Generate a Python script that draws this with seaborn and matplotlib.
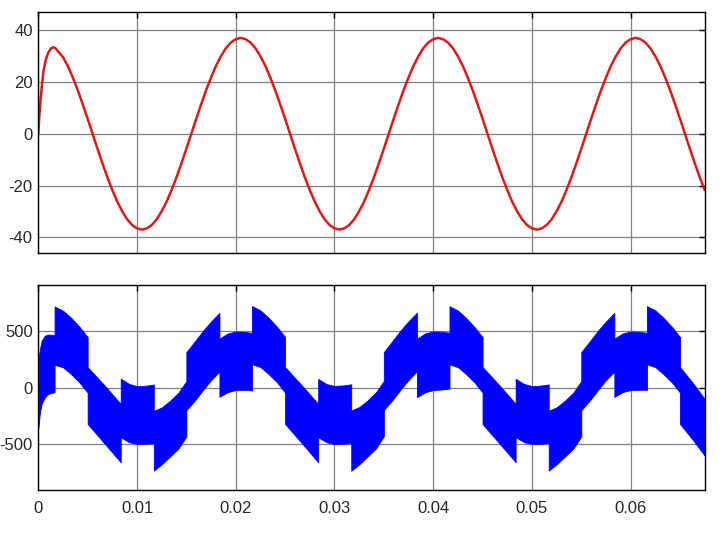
import numpy as np
import matplotlib
matplotlib.use("Agg")
import matplotlib.pyplot as plt
import seaborn as sns

# ---- top panel: load current
# start-up part read more finely (ms, A)
startup_t_ms = [0, 0.1, 0.25, 0.5, 0.75, 1.0, 1.25, 1.5, 1.75]
startup_current = [0.0, 6.5, 14.0, 23.5, 28.5, 31.2, 32.8, 33.4, 33.0]
# rest sampled every 0.5 ms from 2.0 ms to 67.5 ms
sample_step_ms = 0.5
current = [
    31.8, 29.6, 26.1, 21.7, 16.8, 11.4, 5.8, 0.0,
    -5.8, -11.4, -16.8, -21.7, -26.2, -29.9, -33.0, -35.2, -36.5, -37.0, -36.5, -35.2,
    -33.0, -29.9, -26.2, -21.7, -16.8, -11.4, -5.8, 0.0, 5.8, 11.4, 16.8, 21.7,
    26.2, 29.9, 33.0, 35.2,
    36.5, 37.0, 36.5, 35.2, 33.0, 29.9, 26.2, 21.7, 16.8, 11.4, 5.8, 0.0,
    -5.8, -11.4, -16.8, -21.7, -26.2, -29.9, -33.0, -35.2, -36.5, -37.0, -36.5, -35.2,
    -33.0, -29.9, -26.2, -21.7, -16.8, -11.4, -5.8, 0.0, 5.8, 11.4, 16.8, 21.7,
    26.2, 29.9, 33.0, 35.2,
    36.5, 37.0, 36.5, 35.2, 33.0, 29.9, 26.2, 21.7, 16.8, 11.4, 5.8, 0.0,
    -5.8, -11.4, -16.8, -21.7, -26.2, -29.9, -33.0, -35.2, -36.5, -37.0, -36.5, -35.2,
    -33.0, -29.9, -26.2, -21.7, -16.8, -11.4, -5.8, 0.0, 5.8, 11.4, 16.8, 21.7,
    26.2, 29.9, 33.0, 35.2,
    36.5, 37.0, 36.5, 35.2, 33.0, 29.9, 26.2, 21.7, 16.8, 11.4, 5.8, 0.0,
    -5.8, -11.4, -16.8, -21.7,
]

# ---- bottom panel: PWM voltage band, upper / lower envelope (ms, V)
volt_t_ms = [
    0, 0.17, 0.34, 0.68, 1.0, 1.65,
    # cycle 1
    1.65, 2.5, 3.3, 4.2, 5.0,   5.0, 6.7, 8.35,   8.35, 9.2, 10.0, 10.8, 11.7,
    11.7, 12.5, 13.3, 14.2, 15.0,   15.0, 15.9, 16.7, 17.5, 18.35,
    18.35, 19.2, 20.0, 20.8, 21.65,
    # cycle 2
    21.65, 22.5, 23.3, 24.2, 25.0,   25.0, 26.7, 28.35,   28.35, 29.2, 30.0, 30.8, 31.7,
    31.7, 32.5, 33.3, 34.2, 35.0,   35.0, 35.9, 36.7, 37.5, 38.35,
    38.35, 39.2, 40.0, 40.8, 41.65,
    # cycle 3
    41.65, 42.5, 43.3, 44.2, 45.0,   45.0, 46.7, 48.35,   48.35, 49.2, 50.0, 50.8, 51.7,
    51.7, 52.5, 53.3, 54.2, 55.0,   55.0, 55.9, 56.7, 57.5, 58.35,
    58.35, 59.2, 60.0, 60.8, 61.65,
    # cycle 4 (partial)
    61.65, 62.5, 63.3, 64.2, 65.0,   65.0, 66.3, 67.5,
]
volt_upper = [
    251, 339, 412, 456, 465, 462,
    712, 675, 615, 530, 443,   179, 20, -144,   78, 32, 12, 15, 26,
    -205, -175, -120, -45, 56,   311, 410, 500, 580, 655,
    430, 475, 492, 490, 480,
    716, 678, 615, 532, 443,   179, 18, -144,   76, 30, 14, 18, 28,
    -202, -172, -118, -42, 58,   311, 412, 502, 582, 657,
    428, 476, 493, 490, 482,
    714, 676, 614, 530, 442,   180, 20, -143,   77, 31, 13, 16, 27,
    -204, -174, -119, -44, 57,   312, 410, 500, 580, 656,
    430, 475, 492, 490, 480,
    715, 677, 615, 531, 443,   179, 40, -100,
]
volt_lower = [
    -363, -216, -143, -85, -56, -41,
    200, 178, 120, 42, -45,   -320, -490, -657,   -437, -480, -496, -495, -490,
    -730, -675, -610, -535, -430,   -200, -110, -20, 65, 140,
    -82, -40, -22, -20, -25,
    205, 180, 121, 44, -45,   -320, -489, -657,   -437, -481, -497, -494, -488,
    -731, -676, -611, -536, -428,   -198, -108, -18, 66, 143,
    -85, -42, -22, -18, -9,
    203, 179, 120, 43, -44,   -321, -490, -656,   -436, -480, -496, -495, -489,
    -730, -675, -610, -535, -430,   -200, -110, -20, 65, 140,
    -83, -40, -22, -20, -20,
    204, 179, 120, 43, -45,   -320, -460, -598,
]

x_ticks = [0, 0.01, 0.02, 0.03, 0.04, 0.05, 0.06]
x_tick_labels = ["0", "0.01", "0.02", "0.03", "0.04", "0.05", "0.06"]
top_yticks = [-40, -20, 0, 20, 40]
bottom_yticks = [-500, 0, 500]

sns.set_style("white")
plt.rcParams["font.family"] = ["Liberation Sans", "DejaVu Sans"]
plt.rcParams["axes.unicode_minus"] = False

fig = plt.figure(figsize=(7.25, 5.44), dpi=100)
ax1 = fig.add_axes([0.0528, 0.535, 0.9192, 0.443])
ax2 = fig.add_axes([0.0528, 0.0993, 0.9192, 0.3767])

# sample times: fine start-up points, then the regular 0.5 ms grid from 2 ms
t_rest_ms = 2.0 + np.arange(len(current)) * sample_step_ms
t_cur = np.concatenate([startup_t_ms, t_rest_ms]) / 1000.0
i_cur = np.concatenate([startup_current, current])
sns.lineplot(x=t_cur, y=i_cur, ax=ax1, color="#dc1a1a", linewidth=1.8,
             estimator=None, sort=False, legend=False)

t_v = np.array(volt_t_ms) / 1000.0
ax2.fill_between(t_v, volt_lower, volt_upper, color="#0000ff", linewidth=0.6,
                 edgecolor="#0000ff")

for ax in (ax1, ax2):
    ax.set_xlim(0, 0.0675)
    ax.set_xticks(x_ticks)
    ax.grid(True, color="#808080", linewidth=0.9)
    ax.set_axisbelow(True)
    ax.tick_params(direction="in", top=True, right=True, length=4, width=1,
                   color="black", labelsize=12, pad=4)
    for s in ax.spines.values():
        s.set_color("black")
        s.set_linewidth(1.0)
    ax.set_xlabel("")
    ax.set_ylabel("")

ax1.set_ylim(-46, 47)
ax1.set_yticks(top_yticks)
ax1.set_yticklabels([str(v) for v in top_yticks])
ax1.tick_params(labelbottom=False)

ax2.set_ylim(-900, 900)
ax2.set_yticks(bottom_yticks)
ax2.set_yticklabels([str(v) for v in bottom_yticks])
ax2.set_xticklabels(x_tick_labels)
ax2.tick_params(axis="x", pad=8)

fig.savefig("out.png", dpi=100)
